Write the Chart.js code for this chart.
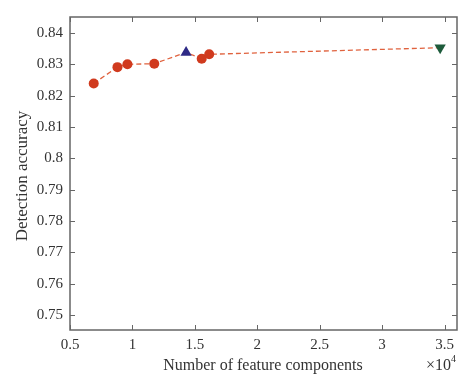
<!DOCTYPE html>
<html>
<head>
<meta charset="utf-8">
<script src="https://cdn.jsdelivr.net/npm/chart.js@4.4.0/dist/chart.umd.min.js"></script>
<style>
  html, body { margin: 0; padding: 0; background: #fff; }
  #wrap { width: 474px; height: 391px; }
</style>
</head>
<body>
<div id="wrap"><canvas id="myChart"></canvas></div>
<script>
// feature counts (x 10^4) and accuracy
var components = [0.69, 0.88, 0.96, 1.175, 1.43, 1.555, 1.615, 3.465];
var accuracy   = [0.8239, 0.8291, 0.8300, 0.8302, 0.8338, 0.8318, 0.8332, 0.8353];
var markers    = ['circle','circle','circle','circle','triangle','circle','circle','triangle'];
var xTicks = [0.5, 1, 1.5, 2, 2.5, 3, 3.5];
var yTicks = [0.75, 0.76, 0.77, 0.78, 0.79, 0.8, 0.81, 0.82, 0.83, 0.84];

var red = '#d03a1e', blue = '#2e2a86', green = '#1d5b3b';
var ptColors = markers.map(function(m, i){
  if (i == 4) return blue;
  if (i == 7) return green;
  return red;
});
var rotations = markers.map(function(m, i){ return i == 7 ? 180 : 0; });
var radii = markers.map(function(m){ return m == 'circle' ? 5 : 6.5; });

var FONT = '"Liberation Serif", "Times New Roman", serif';

// frame with inward ticks on every side, plus axis titles
var framePlugin = {
  id: 'frame',
  afterDraw: function(chart) {
    var c = chart.ctx, a = chart.chartArea;
    var xs = chart.scales.x, ys = chart.scales.y;
    c.save();
    c.strokeStyle = '#666';
    c.lineWidth = 1.5;
    c.strokeRect(a.left, a.top, a.right - a.left, a.bottom - a.top);
    c.lineWidth = 1;
    xTicks.forEach(function(t){
      var px = Math.round(xs.getPixelForValue(t)) + 0.5;
      c.beginPath();
      c.moveTo(px, a.bottom); c.lineTo(px, a.bottom - 5);
      c.moveTo(px, a.top); c.lineTo(px, a.top + 5);
      c.stroke();
    });
    yTicks.forEach(function(t){
      var py = Math.round(ys.getPixelForValue(t)) + 0.5;
      c.beginPath();
      c.moveTo(a.left, py); c.lineTo(a.left + 5, py);
      c.moveTo(a.right, py); c.lineTo(a.right - 5, py);
      c.stroke();
    });
    c.fillStyle = '#333';
    c.font = '16px ' + FONT;
    c.textAlign = 'center';
    c.textBaseline = 'middle';
    c.fillText('Number of feature components', 263, 366);
    c.textAlign = 'right';
    c.fillText('\u00d710', 451, 366);
    c.font = '10px ' + FONT;
    c.textAlign = 'left';
    c.fillText('4', 451, 359);
    c.save();
    c.translate(23, 176);
    c.rotate(-Math.PI / 2);
    c.font = '17px ' + FONT;
    c.textAlign = 'center';
    c.fillText('Detection accuracy', 0, 0);
    c.restore();
    c.restore();
  }
};

var ctx = document.getElementById('myChart').getContext('2d');
var chart = new Chart(ctx, {
  type: 'scatter',
  data: {
    datasets: [{
      data: components.map(function(v, i){ return { x: v, y: accuracy[i] }; }),
      showLine: true,
      borderColor: '#e0623e',
      borderWidth: 1.3,
      borderDash: [5, 3],
      pointStyle: markers,
      pointRotation: rotations,
      pointRadius: radii,
      pointBackgroundColor: ptColors,
      pointBorderColor: ptColors,
      pointBorderWidth: 0
    }]
  },
  options: {
    responsive: true,
    maintainAspectRatio: false,
    animation: false,
    layout: { padding: { top: 17, right: 17, left: 0, bottom: 0 } },
    plugins: { legend: { display: false }, tooltip: { enabled: false } },
    scales: {
      x: {
        type: 'linear',
        min: 0.5, max: 3.6,
        border: { display: false },
        grid: { display: false, drawTicks: false, tickLength: 0 },
        afterBuildTicks: function(s){ s.ticks = xTicks.map(function(v){ return { value: v }; }); },
        afterFit: function(s){ s.height = 61; },
        ticks: {
          color: '#333', padding: 6,
          font: { family: FONT, size: 15 },
          callback: function(v){ return String(v); }
        }
      },
      y: {
        min: 0.7452, max: 0.8451,
        border: { display: false },
        grid: { display: false, drawTicks: false, tickLength: 0 },
        afterBuildTicks: function(s){ s.ticks = yTicks.map(function(v){ return { value: v }; }); },
        afterFit: function(s){ s.width = 70; },
        ticks: {
          color: '#333', padding: 7,
          font: { family: FONT, size: 15 },
          callback: function(v){ return String(Math.round(v * 100) / 100); }
        }
      }
    }
  },
  plugins: [framePlugin]
});
</script>
</body>
</html>
